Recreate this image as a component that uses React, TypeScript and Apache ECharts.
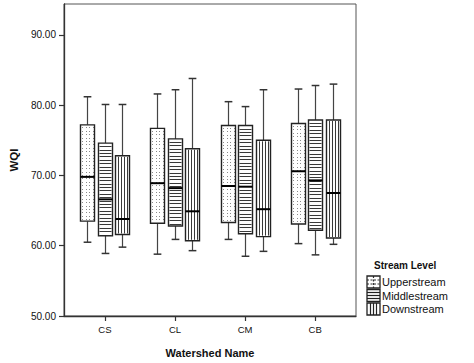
import React, { useEffect, useRef } from "react";
import * as echarts from "echarts";

const categories = ["CS", "CL", "CM", "CB"];
// [min, Q1, median, Q3, max]
const upperstream = [
  [60.5, 63.5, 69.8, 77.2, 81.2],
  [58.8, 63.2, 68.9, 76.7, 81.6],
  [60.9, 63.3, 68.5, 77.1, 80.5],
  [60.3, 63.1, 70.6, 77.4, 82.3],
];
const middlestream = [
  [58.9, 61.4, 66.6, 74.6, 80.1],
  [60.9, 62.8, 68.2, 75.2, 82.2],
  [58.5, 61.7, 68.4, 77.1, 79.8],
  [58.7, 62.2, 69.3, 77.9, 82.8],
];
const downstream = [
  [59.8, 61.6, 63.8, 72.8, 80.1],
  [59.3, 60.7, 64.9, 73.8, 83.8],
  [59.2, 61.3, 65.2, 75.0, 82.2],
  [60.2, 61.1, 67.5, 77.9, 83.0],
];
const yTicks = [50, 60, 70, 80, 90];
const seriesNames = ["Upperstream", "Middlestream", "Downstream"];

const FONT = "'Liberation Sans', Arial, sans-serif";

function patternEls(kind: string, x0: number, y0: number, x1: number, y1: number) {
  const els: any[] = [];
  if (kind === "dots") {
    for (let y = y0 + 2.5; y < y1 - 1; y += 3.4) {
      for (let x = x0 + 2; x < x1 - 1; x += 3.4) {
        els.push({
          type: "rect",
          shape: { x: Math.round(x), y: Math.round(y), width: 1, height: 1 },
          style: { fill: "#8a8a8a" },
          silent: true,
        });
      }
    }
  } else if (kind === "h") {
    for (let y = y0 + 3; y < y1 - 1; y += 3.4) {
      const yy = Math.round(y) + 0.5;
      els.push({
        type: "line",
        shape: { x1: x0 + 1, y1: yy, x2: x1 - 1, y2: yy },
        style: { stroke: "#3a3a3a", lineWidth: 1 },
        silent: true,
      });
    }
  } else {
    for (let x = x0 + 3; x < x1 - 1; x += 3) {
      const xx = Math.round(x) + 0.5;
      els.push({
        type: "line",
        shape: { x1: xx, y1: y0 + 1, x2: xx, y2: y1 - 1 },
        style: { stroke: "#3a3a3a", lineWidth: 1 },
        silent: true,
      });
    }
  }
  return els;
}

function makeSeries(name: string, data: number[][], offset: number, kind: string) {
  return {
    type: "custom",
    name,
    data: data.map((d, i) => [i, ...d]),
    encode: { x: 0, y: [1, 2, 3, 4, 5] },
    renderItem: (params: any, api: any) => {
      const xc = Math.round(api.coord([api.value(0) + offset, 60])[0]) + 0.5;
      const half = api.size([0.1, 0])[0];
      const capHalf = api.size([0.055, 0])[0];
      const yMin = api.coord([0, api.value(1)])[1];
      const yQ1 = api.coord([0, api.value(2)])[1];
      const yMed = api.coord([0, api.value(3)])[1];
      const yQ3 = api.coord([0, api.value(4)])[1];
      const yMax = api.coord([0, api.value(5)])[1];
      const x0 = xc - half;
      const x1 = xc + half;
      const children: any[] = [
        { type: "line", shape: { x1: xc, y1: yMax, x2: xc, y2: yQ3 }, style: { stroke: "#444", lineWidth: 1.2 } },
        { type: "line", shape: { x1: xc, y1: yQ1, x2: xc, y2: yMin }, style: { stroke: "#444", lineWidth: 1.2 } },
        { type: "line", shape: { x1: xc - capHalf, y1: yMax, x2: xc + capHalf, y2: yMax }, style: { stroke: "#333", lineWidth: 1.5 } },
        { type: "line", shape: { x1: xc - capHalf, y1: yMin, x2: xc + capHalf, y2: yMin }, style: { stroke: "#333", lineWidth: 1.5 } },
        { type: "rect", shape: { x: x0, y: yQ3, width: x1 - x0, height: yQ1 - yQ3 }, style: { fill: "#fff", stroke: "none" } },
        ...patternEls(kind, x0, yQ3, x1, yQ1),
        { type: "rect", shape: { x: x0, y: yQ3, width: x1 - x0, height: yQ1 - yQ3 }, style: { fill: "none", stroke: "#222", lineWidth: 1.4 } },
        { type: "line", shape: { x1: x0, y1: yMed, x2: x1, y2: yMed }, style: { stroke: "#000", lineWidth: 2 } },
      ];
      return { type: "group", children };
    },
  };
}

function legendIcon(kind: string, x: number, yc: number) {
  const w = 13;
  const h = 12;
  const y0 = yc - h / 2;
  const els: any[] = [
    { type: "rect", shape: { x, y: y0, width: w, height: h }, style: { fill: "#fff", stroke: "none" } },
  ];
  if (kind === "dots") {
    els.push(
      { type: "line", shape: { x1: x + w / 2, y1: y0, x2: x + w / 2, y2: y0 + h }, style: { stroke: "#333", lineWidth: 1.2, lineDash: [2, 1.5] } },
      { type: "line", shape: { x1: x, y1: y0 + 4, x2: x + w, y2: y0 + 4 }, style: { stroke: "#333", lineWidth: 1.2, lineDash: [2, 1.5] } },
      { type: "line", shape: { x1: x, y1: y0 + 8, x2: x + w, y2: y0 + 8 }, style: { stroke: "#333", lineWidth: 1.2, lineDash: [2, 1.5] } }
    );
  } else if (kind === "h") {
    [3, 6, 9].forEach((d) =>
      els.push({ type: "line", shape: { x1: x, y1: y0 + d, x2: x + w, y2: y0 + d }, style: { stroke: "#222", lineWidth: 1.2 } })
    );
  } else {
    [3.5, 6.5, 9.5].forEach((d) =>
      els.push({ type: "line", shape: { x1: x + d, y1: y0, x2: x + d, y2: y0 + h }, style: { stroke: "#222", lineWidth: 1.2 } })
    );
  }
  els.push({ type: "rect", shape: { x, y: y0, width: w, height: h }, style: { fill: "none", stroke: "#222", lineWidth: 1.3 } });
  return els;
}

export default function App() {
  const ref = useRef<HTMLDivElement>(null);
  useEffect(() => {
    document.body.style.margin = "0";
    const chart = echarts.init(ref.current!, null, { renderer: "svg" });
    const kinds = ["dots", "h", "v"];
    const legendYs = [282, 295.5, 309];
    const graphic: any[] = [
      {
        type: "text",
        left: 374,
        top: 260,
        style: { text: "Stream Level", font: `bold 10px ${FONT}`, fill: "#111" },
      },
    ];
    seriesNames.forEach((n, i) => {
      graphic.push(...legendIcon(kinds[i], 367, legendYs[i]));
      graphic.push({
        type: "text",
        x: 382,
        y: legendYs[i],
        style: { text: n, font: `11px ${FONT}`, fill: "#111", verticalAlign: "middle" },
      });
    });
    chart.setOption({
      animation: false,
      backgroundColor: "#fff",
      grid: {
        left: 63,
        right: 118,
        top: 4,
        bottom: 46,
        show: true,
        borderColor: "#555",
        borderWidth: 1,
        backgroundColor: "transparent",
      },
      xAxis: {
        type: "value",
        min: -0.583,
        max: 3.583,
        name: "Watershed Name",
        nameLocation: "middle",
        nameGap: 31,
        nameTextStyle: { fontFamily: FONT, fontWeight: "bold", fontSize: 11, color: "#111" },
        axisLine: { show: true, onZero: false, lineStyle: { color: "#333", width: 1.3 } },
        axisTick: { show: true, length: 5, customValues: [0, 1, 2, 3], lineStyle: { color: "#333", width: 1.2 } },
        axisLabel: {
          customValues: [0, 1, 2, 3],
          formatter: (v: number) => categories[Math.round(v)] ?? "",
          fontFamily: FONT,
          fontSize: 9.5,
          color: "#111",
          margin: 8,
        },
        splitLine: { show: false },
      },
      yAxis: {
        type: "value",
        min: 50,
        max: 94.4,
        name: "WQI",
        nameLocation: "middle",
        nameGap: 44,
        nameRotate: 90,
        nameTextStyle: { fontFamily: FONT, fontWeight: "bold", fontSize: 11.5, color: "#111" },
        axisLine: { show: true, onZero: false, lineStyle: { color: "#333", width: 1.3 } },
        axisTick: { show: true, length: 5, customValues: yTicks, lineStyle: { color: "#333", width: 1.2 } },
        axisLabel: {
          customValues: yTicks,
          formatter: (v: number) => v.toFixed(2),
          fontFamily: FONT,
          fontSize: 10,
          color: "#111",
          margin: 8,
        },
        splitLine: { show: false },
      },
      series: [
        makeSeries(seriesNames[0], upperstream, -0.25, "dots"),
        makeSeries(seriesNames[1], middlestream, 0, "h"),
        makeSeries(seriesNames[2], downstream, 0.25, "v"),
      ],
      graphic,
    });
    return () => chart.dispose();
  }, []);
  return <div ref={ref} style={{ width: 474, height: 363 }} />;
}
